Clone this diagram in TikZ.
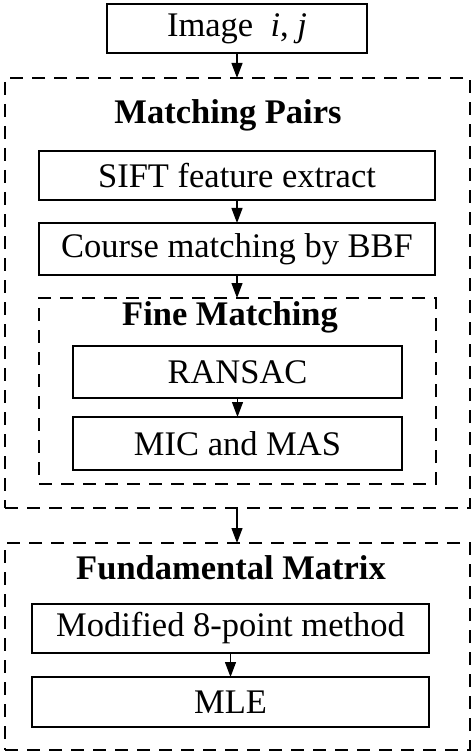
\documentclass[tikz,border=0pt]{standalone}
\usepackage{fontspec}
\setmainfont{Liberation Serif}
\usetikzlibrary{arrows.meta}
\begin{document}
\begin{tikzpicture}[x=0.5pt,y=-0.5pt,
  every node/.style={inner sep=0pt,outer sep=0pt,font=\fontsize{17.25}{20}\selectfont},
  solidbox/.style={draw,line width=0.6pt,fill=white},
  dashbox/.style={draw,line width=0.6pt,dash pattern=on 6.5pt off 4.5pt},
  titletext/.style={font=\fontsize{17.25}{20}\selectfont\bfseries},
  flow/.style={line width=0.6pt,-{Triangle[length=7.5pt,width=5.5pt]}}]
\useasboundingbox (0,0) rectangle (474,754);
\node[solidbox,minimum width={260*0.5pt},minimum height={49*0.5pt}] (img) at (237,28.5) {Image\hspace{0.5em}\textit{i}, \textit{j}};
\node[dashbox,minimum width={465*0.5pt},minimum height={430*0.5pt}] (outer) at (237.5,293) {};
\node[titletext] (mp) at (228,115) {Matching Pairs};
\node[solidbox,minimum width={396*0.5pt},minimum height={49*0.5pt}] (sift) at (237,175.5) {SIFT feature extract};
\node[solidbox,minimum width={396*0.5pt},minimum height={52*0.5pt}] (course) at (237,249) {Course matching by BBF};
\node[dashbox,minimum width={397*0.5pt},minimum height={186*0.5pt}] (fine) at (237.5,391) {};
\node[titletext] (fm) at (230,317) {Fine Matching};
\node[solidbox,minimum width={329*0.5pt},minimum height={52*0.5pt}] (ransac) at (237.5,372) {RANSAC};
\node[solidbox,minimum width={329*0.5pt},minimum height={53*0.5pt}] (mic) at (237.5,443.5) {MIC and MAS};
\node[dashbox,minimum width={465*0.5pt},minimum height={207*0.5pt}] (fund) at (237.5,646.5) {};
\node[titletext] (fmt) at (231,568) {Fundamental Matrix};
\node[solidbox,minimum width={397*0.5pt},minimum height={49*0.5pt}] (mod) at (230.5,628.5) {Modified 8-point method};
\node[solidbox,minimum width={397*0.5pt},minimum height={50*0.5pt}] (mle) at (230.5,702) {MLE};
\draw[flow] (img.south) -- (img.south |- outer.north);
\draw[flow] (sift.south) -- (course.north);
\draw[flow] (course.south) -- (course.south |- fine.north);
\draw[flow] (ransac.south) -- (mic.north);
\draw[flow] (outer.south -| img.south) -- (img.south |- fund.north);
\draw[flow] (mod.south) -- (mle.north);
\end{tikzpicture}
\end{document}
